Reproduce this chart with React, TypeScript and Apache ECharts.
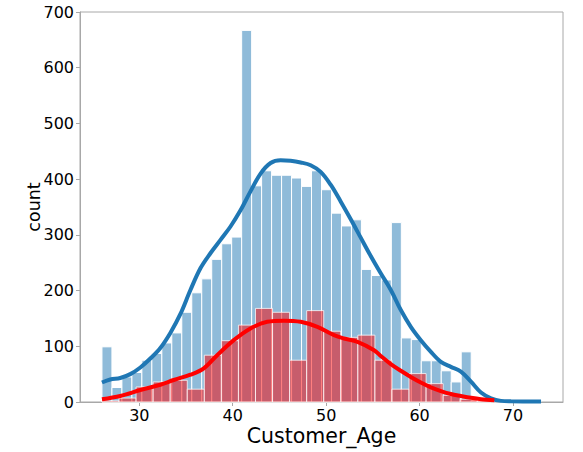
import React, { useEffect, useRef } from "react";
import * as echarts from "echarts";

// Histogram bins (seaborn auto bins)
const blueBinStart = 26;
const blueBinEnd = 73;
const blueBinCount = 44;
const blueCounts = [
  99, 26, 45, 53, 75, 87, 106, 124, 161, 196, 221, 256, 284, 296, 667, 388,
  415, 407, 407, 402, 387, 415, 381, 339, 316, 327, 238, 227, 219, 322, 115,
  112, 74, 74, 56, 36, 90, 2, 3, 1, 0, 1, 0, 1,
];

const redBinStart = 26;
const redBinEnd = 68;
const redBinCount = 23;
const redCounts = [
  2, 7, 27, 36, 39, 23, 84, 110, 138, 168, 161, 75, 164, 127, 116, 120, 75, 23,
  51, 33, 12, 5, 2,
];

// KDE curves (age, scaled density)
const blueKdeAges = [
  26.0, 26.89, 27.96, 29.03, 30.11, 31.18, 32.25, 33.32, 34.4, 35.47, 36.54,
  37.61, 38.69, 39.76, 40.83, 41.9, 42.98, 44.05, 45.12, 46.19, 47.27, 48.34,
  49.41, 50.48, 51.55, 52.63, 53.7, 54.77, 55.84, 56.92, 57.99, 59.06, 60.13,
  61.21, 62.28, 63.35, 64.42, 65.5, 66.57, 67.64, 68.71, 69.79, 73.0,
];
const blueKdeValues = [
  35, 40.5, 43, 50, 62, 78, 97, 124, 158, 201, 240, 267, 291, 315, 344, 378,
  410, 429, 434, 433, 430, 425, 413, 390, 360, 328, 295, 262, 231, 201, 165,
  135, 111, 90, 72, 63, 54.5, 36.5, 17, 6.6, 2, 1.3, 1,
];

const redKdeAges = [
  26.0, 27.96, 30.11, 32.25, 33.68, 35.47, 36.9, 38.33, 40.11, 41.9, 43.69,
  45.47, 47.27, 49.06, 50.84, 51.91, 53.35, 55.13, 55.84, 56.92, 57.99, 59.06,
  60.13, 61.21, 62.28, 63.35, 64.42, 65.5, 66.57, 68.0,
];
const redKdeValues = [
  4.8, 10.8, 21.5, 31, 39.5, 49, 60.4, 84, 111, 132, 144, 146, 144, 135, 120,
  114, 108, 93, 82.6, 68, 56, 45, 35, 26.3, 19.7, 14.4, 10.8, 7.5, 5, 3,
];

const xTicks = [30, 40, 50, 60, 70];
const yTicks = [0, 100, 200, 300, 400, 500, 600, 700];

const xLabel = "Customer_Age";
const yLabel = "count";

function binData(start: number, end: number, n: number, counts: number[]) {
  const w = (end - start) / n;
  return counts.map((c, i) => [start + i * w, start + (i + 1) * w, c]);
}

function makeRender(fill: string, stroke: string) {
  return (params: any, api: any) => {
    const x0 = api.value(0);
    const x1 = api.value(1);
    const v = api.value(2);
    const p0 = api.coord([x0, v]);
    const p1 = api.coord([x1, 0]);
    return {
      type: "rect",
      shape: { x: p0[0], y: p0[1], width: p1[0] - p0[0], height: p1[1] - p0[1] },
      style: { fill, stroke, lineWidth: 1 },
    };
  };
}

export default function App() {
  const ref = useRef<HTMLDivElement>(null);
  useEffect(() => {
    if (!ref.current) return;
    const chart = echarts.init(ref.current, null, { renderer: "svg" });
    const font = "DejaVu Sans";
    const axisColor = "#a8a8a8";
    chart.setOption({
      animation: false,
      backgroundColor: "#ffffff",
      grid: {
        left: 80,
        right: 20,
        top: 12,
        bottom: 50,
        show: true,
        borderColor: axisColor,
        borderWidth: 1,
      },
      xAxis: {
        type: "value",
        min: 23.65,
        max: 75.35,
        name: xLabel,
        nameLocation: "middle",
        nameGap: 24,
        nameMoveOverlap: false,
        nameTextStyle: {
          fontFamily: font,
          fontSize: 20.5,
          lineHeight: 20.5,
          color: "#000",
        },
        axisLine: { show: true, lineStyle: { color: axisColor } },
        axisTick: {
          show: true,
          length: 4,
          customValues: xTicks,
          lineStyle: { color: axisColor },
        },
        axisLabel: {
          customValues: xTicks,
          fontFamily: font,
          fontSize: 16,
          lineHeight: 16,
          color: "#000",
          margin: 5,
        },
        splitLine: { show: false },
      },
      yAxis: {
        type: "value",
        min: 0,
        max: 700,
        interval: 100,
        name: yLabel,
        nameLocation: "middle",
        nameGap: 37,
        nameMoveOverlap: false,
        nameTextStyle: { fontFamily: font, fontSize: 17.5, color: "#000" },
        axisLine: { show: true, lineStyle: { color: axisColor } },
        axisTick: { show: true, length: 4, lineStyle: { color: axisColor } },
        axisLabel: {
          customValues: yTicks,
          fontFamily: font,
          fontSize: 16,
          color: "#000",
          margin: 6,
        },
        splitLine: { show: false },
      },
      series: [
        {
          type: "custom",
          renderItem: makeRender("rgba(31,119,180,0.5)", "#ffffff"),
          data: binData(blueBinStart, blueBinEnd, blueBinCount, blueCounts),
          encode: { x: [0, 1], y: 2 },
          z: 1,
        },
        {
          type: "custom",
          renderItem: makeRender("rgba(255,0,0,0.5)", "rgba(255,255,255,0.75)"),
          data: binData(redBinStart, redBinEnd, redBinCount, redCounts),
          encode: { x: [0, 1], y: 2 },
          z: 2,
        },
        {
          type: "line",
          data: blueKdeAges.map((a, i) => [a, blueKdeValues[i]]),
          smooth: 0.35,
          showSymbol: false,
          lineStyle: { color: "#1f77b4", width: 4 },
          z: 3,
        },
        {
          type: "line",
          data: redKdeAges.map((a, i) => [a, redKdeValues[i]]),
          smooth: 0.35,
          showSymbol: false,
          lineStyle: { color: "#ff0000", width: 4 },
          z: 4,
        },
      ],
    });
    return () => chart.dispose();
  }, []);
  return (
    <div
      ref={ref}
      style={{ position: "fixed", left: 0, top: 0, width: 583, height: 452, background: "#fff" }}
    />
  );
}
